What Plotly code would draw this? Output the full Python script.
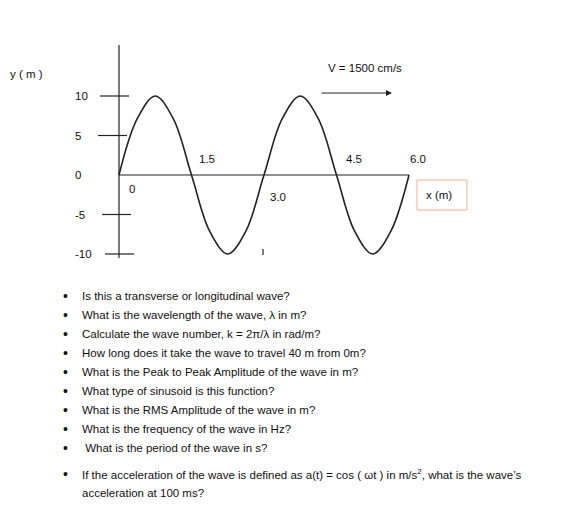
import plotly.graph_objects as go

# wave samples (x in m, y in m)
wave_x = [0, 0.375, 0.75, 1.125, 1.5, 1.875, 2.25, 2.625, 3.0, 3.375, 3.75, 4.125, 4.5, 4.875, 5.25, 5.625, 6.0]
wave_y = [0, 7.1, 10, 7.1, 0, -7.1, -10, -7.1, 0, 7.1, 10, 7.1, 0, -7.1, -10, -7.1, 0]
y_ticks = [10, 5, 0, -5, -10]
x_labels = ["1.5", "3.0", "4.5", "6.0"]
x_label_pos = [1.5, 3.0, 4.5, 6.0]

title_lines = [
    "The below graph shows a sinusoidal wave traveling in time in the +x direction at a velocity",
    "of 1500 cm/s in air with a y Amplitude. Answer the following questions.",
]
questions = [
    "Is this a transverse or longitudinal wave?",
    "What is the wavelength of the wave, λ in m?",
    "Calculate the wave number, k = 2π/λ in rad/m?",
    "How long does it take the wave to travel 40 m from 0m?",
    "What is the Peak to Peak Amplitude of the wave in m?",
    "What type of sinusoid is this function?",
    "What is the RMS Amplitude of the wave in m?",
    "What is the frequency of the wave in Hz?",
    " What is the period of the wave in s?",
    "If the acceleration of the wave is defined as a(t) = cos ( ωt ) in m/s<sup>2</sup>, what is the wave’s",
]
last_line = "acceleration at 100 ms?"

W, H = 575, 505
OFF = 8                    # page margin around the plot div
X0, Y0 = 119, 175          # pixel of data origin
SX, SY = 48.33, 7.9        # pixels per unit

def px(x):
    return (x - X0) / SX

def py(y):
    return (Y0 - y) / SY

FONT = "Liberation Sans"
fig = go.Figure(go.Scatter(x=wave_x, y=wave_y, mode="lines", line=dict(color="#222", width=1.6, shape="spline", smoothing=1.0), hoverinfo="skip"))

line = dict(color="#222", width=1.2)
shapes = [
    dict(type="line", x0=0, x1=0, y0=py(45), y1=py(258), line=line),
    dict(type="line", x0=0, x1=6.0, y0=0, y1=0, line=line),
    dict(type="line", x0=px(263), x1=px(263), y0=py(249), y1=py(255), line=line),
    dict(type="rect", x0=px(417), x1=px(467), y0=py(180), y1=py(210), line=dict(color="#f4b08a", width=1)),
]
tick_px = {10: (100, 129), 5: (98, 127), -5: (102, 131), -10: (105, 134)}
for v, (a, b) in tick_px.items():
    shapes.append(dict(type="line", x0=px(a), x1=px(b), y0=v, y1=v, line=line))

ann = []
def text(x, y, s, size=11.5, anchor="left"):
    ann.append(dict(x=x, y=y, xref="x", yref="y", text=s, showarrow=False, xanchor=anchor,
                    yanchor="middle", font=dict(family=FONT, size=size, color="#111")))

for v in y_ticks:
    text(px(73), v, str(v))
text(px(8), py(74), "y ( m )")
text(px(127), py(189), "0")
label_offsets = {"1.5": (197, 159), "3.0": (268, 197), "4.5": (344, 159), "6.0": (408, 159)}
for s, xv in zip(x_labels, x_label_pos):
    lx, ly = label_offsets[s]
    text(px(lx), py(ly), s)
text(px(424), py(195), "x (m)")
text(px(326), py(68), "V = 1500 cm/s")
ann.append(dict(x=px(392), y=py(93), ax=px(320), ay=py(93), xref="x", yref="y", axref="x", ayref="y",
                text="", showarrow=True, arrowhead=2, arrowsize=1, arrowwidth=1.2, arrowcolor="#222"))

for i, s in enumerate(title_lines):
    text(px(5), py(9 + 17 * i), s, size=12)

q_y = [296, 315, 334, 353, 372, 391, 410, 429, 448, 474]
for s, yy in zip(questions, q_y):
    text(px(61), py(yy), "•", size=14)
    text(px(80), py(yy), s)
text(px(80), py(493), last_line)

fig.update_layout(
    width=W, height=H, autosize=False, margin=dict(l=0, r=0, t=0, b=0),
    paper_bgcolor="white", plot_bgcolor="white", showlegend=False,
    xaxis=dict(range=[px(OFF), px(W + OFF)], visible=False, fixedrange=True),
    yaxis=dict(range=[py(H + OFF), py(OFF)], visible=False, fixedrange=True),
    shapes=shapes, annotations=ann,
)
fig.write_html("out.html")
